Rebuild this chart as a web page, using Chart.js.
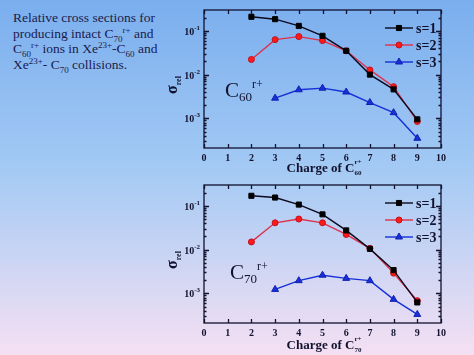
<!DOCTYPE html>
<html><head><meta charset="utf-8">
<script src="https://cdn.jsdelivr.net/npm/chart.js@4"></script>
<style>
html,body{margin:0;padding:0;}
body{width:474px;height:355px;overflow:hidden;position:relative;background:linear-gradient(to bottom,#7aaeee 0%,#a4caf4 48%,#f5e0f3 100%);font-family:"Liberation Serif","Times New Roman",serif;}
#txt{position:absolute;left:13px;top:10px;font-size:13.5px;line-height:15.6px;color:#1b1b4d;white-space:nowrap}
#txt sub,#txt sup{font-size:9px;line-height:0}
.c{position:absolute;left:160px;width:314px;height:180px}
</style></head>
<body>
<div id="txt">Relative cross sections for<br>producing intact C<sub>70</sub><sup>r+</sup> and<br>C<sub>60</sub><sup>r+</sup> ions in Xe<sup>23+</sup>-C<sub>60</sub> and<br>Xe<sup>23+</sup>- C<sub>70</sub> collisions.</div>
<div class="c" style="top:0"><canvas id="c1" width="314" height="180"></canvas></div>
<div class="c" style="top:175px"><canvas id="c2" width="314" height="180"></canvas></div>
<script>
const charges = [2,3,4,5,6,7,8,9];
const chargesS3 = [3,4,5,6,7,8,9];
const c60_s1 = [0.21,0.185,0.13,0.077,0.035,0.010,0.0046,0.00095];
const c60_s2 = [0.0222,0.063,0.074,0.060,0.035,0.0128,0.0053,0.00085];
const c60_s3 = [0.0029,0.0045,0.0049,0.0040,0.0023,0.00135,0.00035];
const c70_s1 = [0.17,0.155,0.107,0.064,0.0275,0.0104,0.0034,0.00062];
const c70_s2 = [0.015,0.041,0.050,0.041,0.0222,0.0107,0.0029,0.00068];
const c70_s3 = [0.00123,0.00195,0.0026,0.0022,0.00195,0.00073,0.00033];
const seriesLabels = ['s=1','s=2','s=3'];
const xTicks = [0,1,2,3,4,5,6,7,8,9,10];
const yTicks = [1e-3,1e-2,1e-1];
const yTickExp = ['-3','-2','-1'];

const styles = [
  {line:'#0a0a1e', fill:'#000000', edge:'#000000', shape:'rect', r:3.6},
  {line:'#e0304a', fill:'#ff1a1a', edge:'#c0101a', shape:'circle', r:3},
  {line:'#1530d8', fill:'#1a2fd8', edge:'#1020b0', shape:'triangle', r:4}
];
const INK = '#12122e';

function pts(xs, ys){ return xs.map((x,i)=>({x, y:ys[i]})); }

function drawParts(ctx, x, y, parts){
  let cx = x, lastStart = x;
  parts.forEach(p=>{
    ctx.font = p.font;
    const w = ctx.measureText(p.t).width;
    let px = cx;
    if (p.stack){ px = lastStart; }
    ctx.fillText(p.t, px, y + (p.dy||0));
    if (p.stack){ cx = Math.max(cx, px + w); }
    else { lastStart = cx; cx = cx + w; }
  });
}

function framePlugin(sub){ return {
  id:'frame',
  afterDraw(chart){
    const {ctx, chartArea:a, scales:{x,y}} = chart;
    ctx.save();
    ctx.strokeStyle = INK; ctx.lineWidth = 1.3;
    ctx.strokeRect(a.left, a.top, a.right-a.left, a.bottom-a.top);
    ctx.beginPath();
    xTicks.forEach(v=>{ const px = Math.round(x.getPixelForValue(v))+0.5;
      ctx.moveTo(px,a.bottom); ctx.lineTo(px,a.bottom-4);
      ctx.moveTo(px,a.top); ctx.lineTo(px,a.top+4); });
    yTicks.forEach(v=>{ const py = Math.round(y.getPixelForValue(v))+0.5;
      ctx.moveTo(a.left,py); ctx.lineTo(a.left+5,py);
      ctx.moveTo(a.right,py); ctx.lineTo(a.right-5,py); });
    for (let d=-4; d<=0; d++) for (let m=2; m<=9; m++){
      const v = m*Math.pow(10,d);
      if (v < y.min || v > y.max) continue;
      const py = Math.round(y.getPixelForValue(v))+0.5;
      ctx.moveTo(a.left,py); ctx.lineTo(a.left+2.5,py);
      ctx.moveTo(a.right,py); ctx.lineTo(a.right-2.5,py);
    }
    ctx.stroke();
    ctx.fillStyle = INK;
    ctx.textBaseline = 'alphabetic'; ctx.textAlign = 'left';
    yTicks.forEach((v,i)=>{
      const py = y.getPixelForValue(v);
      ctx.font = 'bold 7px "Liberation Serif"';
      const we = ctx.measureText(yTickExp[i]).width;
      ctx.font = 'bold 10px "Liberation Serif"';
      const wb = ctx.measureText('10').width;
      const xr = a.left - 4;
      ctx.fillText('10', xr - we - wb, py + 4);
      ctx.font = 'bold 7px "Liberation Serif"';
      ctx.fillText(yTickExp[i], xr - we, py - 1);
    });
    ctx.save();
    ctx.translate(17, 86); ctx.rotate(-Math.PI/2);
    ctx.textAlign='left';
    drawParts(ctx, -8, 0, [{t:'\u03c3', font:'bold 16px "Liberation Serif"'},{t:'rel', font:'bold 8px "Liberation Serif"', dy:4}]);
    ctx.restore();
    ctx.textAlign='left';
    ctx.font = 'bold 13px "Liberation Serif"';
    const tw = ctx.measureText('Charge of C').width + 8;
    const cxm = (a.left + a.right)/2;
    drawParts(ctx, cxm - tw/2 + 2, sub==='60'?172:174, [
      {t:'Charge of C', font:'bold 13px "Liberation Serif"'},
      {t:sub, font:'bold 7px "Liberation Serif"', dy:3},
      {t:'r+', font:'bold 7px "Liberation Serif"', dy:-8, stack:true}]);
    drawParts(ctx, sub==='60'?65:70, sub==='60'?97:104, [
      {t:'C', font:'21px "Liberation Serif"'},
      {t:sub, font:'13px "Liberation Serif"', dy:4},
      {t:'r+', font:'12px "Liberation Serif"', dy:-9}]);
    const ly = [a.top+18, a.top+35, a.top+52];
    chart.data.datasets.forEach((ds,i)=>{
      const st = styles[i];
      ctx.strokeStyle = st.line; ctx.lineWidth = 1.4;
      ctx.beginPath(); ctx.moveTo(225, ly[i]); ctx.lineTo(253, ly[i]); ctx.stroke();
      ctx.fillStyle = st.fill; ctx.strokeStyle = st.edge; ctx.lineWidth = 1;
      Chart.helpers.drawPoint(ctx, {pointStyle:st.shape, radius:st.r, borderWidth:1}, 239, ly[i]);
      ctx.fillStyle = INK; ctx.font = 'bold 14px "Liberation Serif"'; ctx.textBaseline='middle';
      ctx.fillText(ds.label, 256, ly[i]+1);
      ctx.textBaseline='alphabetic';
    });
    ctx.restore();
  }
};}

function makeChart(id, s1, s2, s3, sub){
  const sets = [pts(charges,s1), pts(charges,s2), pts(chargesS3,s3)];
  new Chart(document.getElementById(id), {
    type:'line',
    data:{ datasets: sets.map((d,i)=>({
      label: seriesLabels[i], data:d,
      borderColor: styles[i].line, borderWidth:1.4,
      pointStyle: styles[i].shape, pointRadius: styles[i].r,
      pointBackgroundColor: styles[i].fill, pointBorderColor: styles[i].edge, pointBorderWidth:1,
      tension:0, fill:false
    }))},
    options:{
      responsive:false, animation:false, devicePixelRatio:1,
      layout:{padding:{top:10, right:33, left:0, bottom:0}},
      plugins:{legend:{display:false}, tooltip:{enabled:false}},
      scales:{
        x:{type:'linear', min:0, max:10,
           afterFit: s=>{ s.height = 32; },
           grid:{display:false, drawTicks:false, tickLength:0}, border:{display:false},
           ticks:{stepSize:1, padding:4, color:INK, font:{family:'"Liberation Serif"', weight:'bold', size:10}}},
        y:{type:'logarithmic', min:2.1e-4, max:0.3,
           afterFit: s=>{ s.width = 44; },
           grid:{display:false}, border:{display:false},
           ticks:{display:false}}
      }
    },
    plugins:[framePlugin(sub)]
  });
}
makeChart('c1', c60_s1, c60_s2, c60_s3, '60');
makeChart('c2', c70_s1, c70_s2, c70_s3, '70');
</script>
</body></html>
